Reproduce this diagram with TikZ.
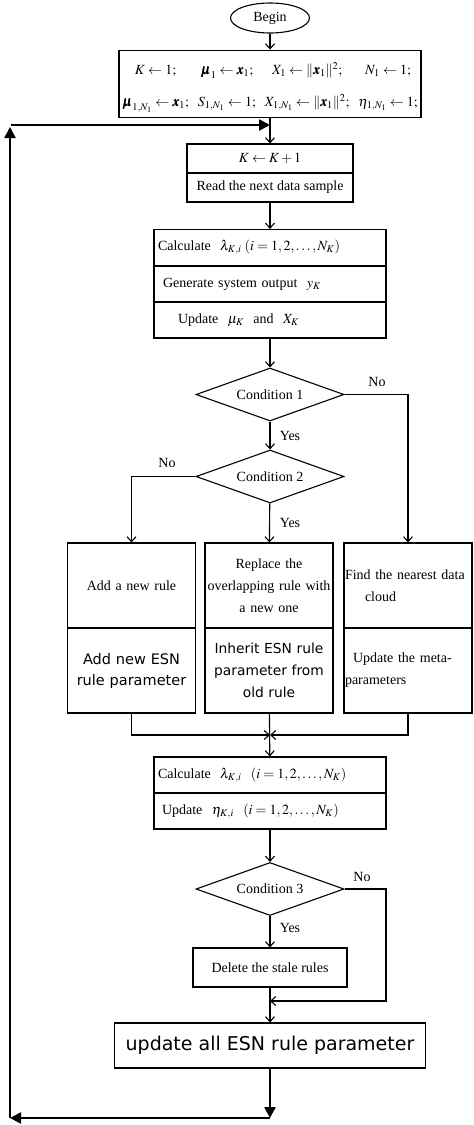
\documentclass[tikz,border=0pt]{standalone}
\usepackage{amsmath,amssymb}
\usepackage{mathptmx}
\usepackage{bm}
\usepackage[no-math]{fontspec}
\setmainfont{Liberation Serif}
\newfontfamily\cnsans{DejaVu Sans}
\usetikzlibrary{positioning,shapes.geometric,arrows.meta}

\begin{document}
\begin{tikzpicture}[x=1pt,y=-1pt,->,>={Straight Barb[length=5pt,width=9pt]},line width=1.1pt,
    every node/.style={font=\fontsize{14}{22}\selectfont},
    blk/.style={draw,rectangle,inner sep=2pt},
    row/.style={blk,text width=224,inner xsep=4pt,align=left,minimum height=36},
    tall/.style={blk,text width=126,inner xsep=1pt,minimum height=85,align=center},
    cond/.style={draw,diamond,aspect=2.8,minimum width=148,minimum height=53,inner sep=0pt},
    lbl/.style={inner sep=0pt},
    sans/.style={font=\cnsans\fontsize{14.5}{21}\selectfont},
    back/.style={line width=2.4pt,-{Triangle[length=11pt,width=11pt]}}]

    \useasboundingbox (0,0) rectangle (474,1125);

    % Start and initialisation
    \node [draw,ellipse,minimum width=79,minimum height=30,inner sep=0pt] at (270,18) (begin) {Begin};
    \node [blk,minimum width=302,minimum height=58] at (270,84) (init) {\renewcommand{\arraystretch}{1.45}%
      \begin{tabular}{@{}c@{\hspace{9pt}}c@{\hspace{9pt}}c@{\hspace{9pt}}c@{}}
        $K\leftarrow 1;$ & $\bm{\mu}_1\leftarrow\bm{x}_1;$ & $X_1\leftarrow\|\bm{x}_1\|^2;$ & $N_1\leftarrow 1;$\\
        $\bm{\mu}_{1,N_1}\leftarrow\bm{x}_1;$ & $S_{1,N_1}\leftarrow 1;$ & $X_{1,N_1}\leftarrow\|\bm{x}_1\|^2;$ & $\eta_{1,N_1}\leftarrow 1;$
      \end{tabular}};

    % Next sample
    \node [blk,minimum width=166,minimum height=29] at (270,158.5) (kinc) {$K\leftarrow K+1$};
    \node [blk,minimum width=166,minimum height=29] at (270,187.5) (read) {Read the next data sample};

    % Output of the system
    \node [row] at (270,247.5) (lam) {Calculate \ $\lambda_{K,i}\;(i=1,2,\ldots,N_K)$};
    \node [row] at (270,284) (gen) {\hspace*{5pt}Generate system output \ $y_K$};
    \node [row] at (270,320) (upd) {\hspace*{20pt}Update \ $\mu_K$ \ and \ $X_K$};

    % Conditions
    \node [cond] at (270,394.5) (c1) {Condition 1};
    \node [cond] at (270,476.5) (c2) {Condition 2};
    \node [lbl] at (377,382) (no1) {No};
    \node [lbl] at (290,436) (yes1) {Yes};
    \node [lbl] at (167,463) (no2) {No};
    \node [lbl] at (290,523) (yes2) {Yes};

    % Rule base changes
    \node [tall] at (131.5,585.5) (addrule) {Add a new rule\\[12pt]};
    \node [tall,sans] at (131.5,670.5) (addpar) {Add new ESN\\rule parameter};
    \node [tall] at (269,585.5) (repl) {Replace the\\overlapping rule with\\a new one};
    \node [tall,sans,font=\cnsans\fontsize{13.8}{22}\selectfont] at (269,670.5) (inh) {Inherit ESN rule\\parameter from\\old rule};
    \node [tall,align=left] at (408,585.5) (near) {Find the nearest data\\\hspace*{20pt}cloud};
    \node [tall,align=left] at (408,670.5) (meta) {\hspace*{8pt}Update the meta-\\parameters};
    \coordinate (merge) at (270,735);

    % Densities and stale rules
    \node [row] at (270,775) (lam2) {Calculate \ $\lambda_{K,i}$ \ $(i=1,2,\ldots,N_K)$};
    \node [row] at (270,811) (eta) {\hspace*{4pt}Update \ $\eta_{K,i}$ \ $(i=1,2,\ldots,N_K)$};
    \node [cond] at (270,889) (c3) {Condition 3};
    \node [lbl] at (362,877) (no3) {No};
    \node [lbl] at (290,928) (yes3) {Yes};
    \node [blk,minimum width=154,minimum height=39] at (270,967.5) (delete) {Delete the stale rules};
    \coordinate (c3bend) at (386,1001);
    \coordinate (join3) at (270,1001);
    \node [blk,minimum width=311,minimum height=45,font=\cnsans\fontsize{19}{23}\selectfont] at (270,1045.5) (update) {update all ESN rule parameter};

    % Loop back
    \coordinate (loopA) at (270,1118);
    \coordinate (loopB) at (10,1118);
    \coordinate (loopC) at (10,127);
    \coordinate (loopD) at (270,125);
    \coordinate (loopE) at (11,125);

    % Flow edges
    \path[->]
    (begin) edge (init)
    (init) edge (kinc)
    (read) edge (lam)
    (upd) edge (c1)
    (c1) edge (c2)
    (c2) edge (repl)
    (inh) edge (lam2)
    (eta) edge (c3)
    (c3) edge (delete)
    (delete) edge (update);

    \draw[->] (c1.east) -| (near.north);
    \draw[->] (c2.west) -| (addrule.north);
    \draw[->] (addpar.south) |- (merge);
    \draw[->] (meta.south) |- (merge);
    \draw[->] (c3.east) -| (c3bend) -- (join3);

    \draw[back] (update.south) -- (loopA);
    \draw[back] (loopA) -- (loopB);
    \draw[back] (loopB) -- (loopC);
    \draw[back] (loopE) -- (loopD);

\end{tikzpicture}
\end{document}
